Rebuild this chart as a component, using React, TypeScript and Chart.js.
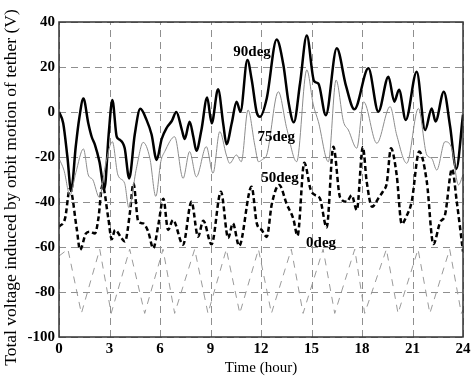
import React, { useEffect, useRef } from "react";
import { Chart, registerables } from "chart.js";

Chart.register(...registerables);

// ---- data (hours, volts) ----
const hours90 = [0, 0.25, 0.5, 0.72, 1.0, 1.2, 1.45, 1.74, 1.94, 2.14, 2.4, 2.7, 2.95, 3.17, 3.43, 3.62, 3.9, 4.17, 4.5, 4.83, 5.2, 5.5, 5.8, 6.1, 6.4, 6.7, 6.97, 7.3, 7.47, 7.76, 7.98, 8.16, 8.46, 8.8, 9.07, 9.45, 9.76, 9.95, 10.26, 10.55, 10.78, 11.19, 11.45, 11.75, 11.94, 12.34, 12.93, 13.33, 13.63, 13.95, 14.32, 14.72, 15.15, 15.41, 15.85, 16.5, 17.05, 17.55, 18.38, 18.97, 19.57, 19.92, 20.2, 20.6, 21.25, 21.75, 22.14, 22.37, 22.86, 23.23, 23.6, 24];
const volts90 = [0, -5, -20, -35, -15, -3, 6, -5, -11, -14.7, -22, -34, -10, 5.3, -11, -12.4, -16, -29.5, -10, 1.4, -3.5, -10, -21.3, -12, -7, -4, 0, -8, -12, -4.3, -11, -17.2, -8, 6.4, -5, 10.1, -5.5, -14.3, -5, 4.6, 0.1, 23.1, 14.2, -0.3, -2.1, 6, 32.2, 20.9, 4.6, -4.6, 12.8, 34, 13.8, 12.6, -1.4, 28.3, 11.6, 1.2, 19.4, 0.1, 15.7, 4.6, 9.9, -3.5, 17.9, -8, 1.6, -4.2, 9, -6.2, -25.3, -1.2];

const hours75 = [0, 0.3, 0.65, 1.0, 1.45, 1.74, 2.0, 2.4, 2.75, 3.17, 3.5, 3.9, 4.15, 4.6, 5.0, 5.4, 5.75, 6.05, 6.28, 6.87, 7.37, 7.76, 8.16, 8.75, 9.15, 9.55, 9.94, 10.14, 10.54, 10.83, 11.23, 11.63, 11.85, 12.1, 12.34, 13.03, 13.53, 14.12, 14.72, 15.11, 15.41, 16.0, 16.46, 16.9, 17.19, 17.69, 18.1, 18.88, 19.67, 20.06, 20.66, 21.35, 21.85, 22.14, 22.44, 22.93, 23.33, 23.73, 24];
const volts75 = [-20.6, -26, -37, -27, -16.4, -28, -30, -38, -24, -13.2, -28, -31.7, -42.5, -25, -13.5, -20.6, -37.5, -22, -17.6, -11, -29.5, -17.6, -28.8, -15.4, -27.2, -8.7, -19.1, -22.8, -19.1, -22.1, 0.9, -14.7, -22.1, -21, -19.1, 9, -7.3, -22.1, 18.7, 3.1, -4.3, -22.1, 14.2, -4.3, -8, -16.1, 4.5, -13.9, 2.4, -10.2, -22.8, 1.6, -19.1, -20.6, -25.8, -13.2, -16.1, -32.4, -28];

const hours50 = [0, 0.36, 0.65, 1.05, 1.25, 1.6, 1.84, 2.14, 2.34, 2.58, 2.93, 3.13, 3.33, 3.72, 3.92, 4.22, 4.42, 4.71, 5.0, 5.3, 5.6, 5.9, 6.2, 6.48, 6.77, 7.37, 7.87, 8.26, 8.57, 9.06, 9.62, 10.05, 10.33, 10.7, 11.44, 11.75, 12.04, 12.34, 12.64, 13.08, 13.53, 13.92, 14.17, 14.57, 14.95, 15.21, 15.5, 15.9, 16.3, 16.7, 17.09, 17.39, 17.69, 18.05, 18.28, 18.6, 19.0, 19.27, 19.47, 19.72, 20.06, 20.36, 20.66, 20.95, 21.4, 21.85, 22.24, 22.64, 22.93, 23.35, 23.63, 24];
const volts50 = [-51, -47.3, -34, -51.7, -61.3, -54, -53.2, -54, -47.3, -32.5, -47.3, -56.5, -52.4, -56.1, -57.6, -44.3, -31.7, -48.7, -49.5, -53.2, -60.6, -50.2, -38.5, -52.4, -48, -59, -39.9, -55.4, -48.3, -58.8, -35.4, -56, -49.5, -59.5, -33.2, -49.5, -52.4, -55.5, -41, -32.4, -41, -47.5, -55, -22.5, -34.5, -36.9, -38.4, -51.3, -15.4, -38, -39.9, -37, -43.6, -15.6, -31, -42.1, -38, -35, -31.7, -16.1, -28, -49.8, -46, -39.9, -17.6, -31, -58.7, -49, -45.8, -25.3, -39.9, -62];

const hours0 = [0, 0.53, 1.33, 2.42, 3.1, 4.2, 5.09, 6.18, 6.87, 8.06, 8.85, 9.94, 10.74, 11.85, 12.62, 13.8, 14.5, 15.69, 16.38, 17.57, 18.16, 19.45, 20.14, 21.33, 22.03, 23.21, 23.9, 24];
const volts0 = [-64, -61, -89.5, -61, -89.5, -61, -89.5, -61, -89.5, -61, -89.5, -61, -89.5, -61, -89.5, -61, -89.5, -61, -89.5, -61, -89.5, -61, -89.5, -61, -89.5, -61, -89.5, -88];

// ---- annotation labels (placed in data coordinates) ----
const labelTexts = ["90deg", "75deg", "50deg", "0deg"];
const labelHours = [11.47, 12.9, 13.13, 15.57];
const labelVolts = [26.4, -11, -29.5, -58.1];

// ---- axes ----
const xMin = 0, xMax = 24, xStep = 3;
const yMin = -100, yMax = 40, yStep = 20;
const xTitle = "Time (hour)";
const yTitle = "Total voltage induced by orbit motion of tether (V)";

const zip = (xs: number[], ys: number[]) => xs.map((x, i) => ({ x, y: ys[i] }));

const SERIF = "'Liberation Serif', 'Times New Roman', serif";

export default function App() {
  const ref = useRef<HTMLCanvasElement | null>(null);

  useEffect(() => {
    if (!ref.current) return;

    const gridPlugin = {
      id: "dashedGrid",
      beforeDatasetsDraw(chart: any) {
        const { ctx, chartArea, scales } = chart;
        ctx.save();
        ctx.strokeStyle = "#8f8f8f";
        ctx.lineWidth = 1;
        ctx.setLineDash([7, 5]);
        scales.x.ticks.forEach((t: any) => {
          const px = Math.round(scales.x.getPixelForValue(t.value)) + 0.5;
          ctx.beginPath();
          ctx.moveTo(px, chartArea.bottom);
          ctx.lineTo(px, chartArea.top);
          ctx.stroke();
        });
        scales.y.ticks.forEach((t: any) => {
          const py = Math.round(scales.y.getPixelForValue(t.value)) + 0.5;
          ctx.beginPath();
          ctx.moveTo(chartArea.left, py);
          ctx.lineTo(chartArea.right, py);
          ctx.stroke();
        });
        ctx.restore();
      },
    };

    const framePlugin = {
      id: "frame",
      afterDraw(chart: any) {
        const { ctx, chartArea } = chart;
        ctx.save();
        ctx.strokeStyle = "#333";
        ctx.lineWidth = 1.5;
        ctx.setLineDash([]);
        ctx.strokeRect(chartArea.left, chartArea.top, chartArea.right - chartArea.left, chartArea.bottom - chartArea.top);
        // y-axis title, centred a little below the plot's middle as in the reference
        ctx.font = `17.5px ${SERIF}`;
        ctx.fillStyle = "#000";
        ctx.textAlign = "center";
        ctx.textBaseline = "middle";
        ctx.translate(11, (chartArea.top + chartArea.bottom) / 2 + 8);
        ctx.rotate(-Math.PI / 2);
        ctx.fillText(yTitle, 0, 0);
        ctx.restore();
      },
    };

    const labelPlugin = {
      id: "seriesLabels",
      afterDatasetsDraw(chart: any) {
        const { ctx, scales } = chart;
        ctx.save();
        ctx.font = `bold 15px ${SERIF}`;
        ctx.fillStyle = "#000";
        ctx.textAlign = "center";
        ctx.textBaseline = "middle";
        labelTexts.forEach((t, i) => {
          const px = scales.x.getPixelForValue(labelHours[i]);
          const py = scales.y.getPixelForValue(labelVolts[i]);
          ctx.fillText(t, px, py);
        });
        ctx.restore();
      },
    };

    const chart = new Chart(ref.current, {
      type: "line",
      data: {
        datasets: [
          {
            label: "0deg",
            data: zip(hours0, volts0),
            borderColor: "#9a9a9a",
            borderWidth: 1,
            borderDash: [7, 6],
            pointRadius: 0,
            tension: 0,
          },
          {
            label: "75deg",
            data: zip(hours75, volts75),
            borderColor: "#8c8c8c",
            borderWidth: 1,
            pointRadius: 0,
            cubicInterpolationMode: "monotone",
          },
          {
            label: "50deg",
            data: zip(hours50, volts50),
            borderColor: "#000",
            borderWidth: 2.5,
            borderDash: [5, 3],
            pointRadius: 0,
            cubicInterpolationMode: "monotone",
          },
          {
            label: "90deg",
            data: zip(hours90, volts90),
            borderColor: "#000",
            borderWidth: 2.5,
            pointRadius: 0,
            cubicInterpolationMode: "monotone",
          },
        ],
      },
      options: {
        animation: false,
        responsive: false,
        maintainAspectRatio: false,
        events: [],
        layout: { padding: { left: 0, top: 22, right: 11, bottom: 0 } },
        plugins: { legend: { display: false }, tooltip: { enabled: false } },
        scales: {
          x: {
            type: "linear",
            min: xMin,
            max: xMax,
            afterFit: (s: any) => { s.height = 42; },
            ticks: {
              stepSize: xStep,
              color: "#000",
              padding: 3,
              font: { family: SERIF, size: 15, weight: "bold" },
            },
            grid: { display: false, drawTicks: false },
            border: { display: false },
            title: {
              display: true,
              text: xTitle,
              color: "#000",
              padding: { top: 0, bottom: 2 },
              font: { family: SERIF, size: 15 },
            },
          },
          y: {
            type: "linear",
            min: yMin,
            max: yMax,
            afterFit: (s: any) => { s.width = 59; },
            ticks: {
              stepSize: yStep,
              color: "#000",
              padding: 4,
              font: { family: SERIF, size: 15, weight: "bold" },
            },
            grid: { display: false, drawTicks: false },
            border: { display: false },
            title: { display: false },
          },
        },
      } as any,
      plugins: [gridPlugin, labelPlugin, framePlugin],
    });

    return () => chart.destroy();
  }, []);

  return (
    <div style={{ position: "absolute", left: 0, top: 0, width: 474, height: 379, background: "#fff" }}>
      <canvas ref={ref} width={474} height={379} />
    </div>
  );
}
